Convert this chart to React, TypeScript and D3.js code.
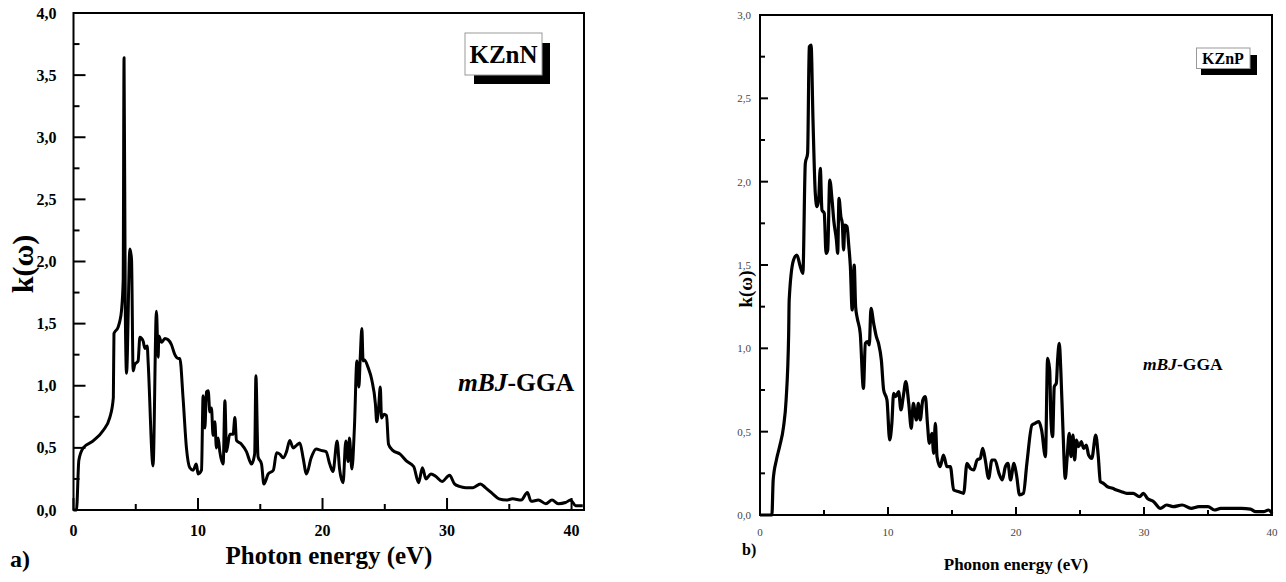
import * as d3 from "d3";

// KZnN, mBJ-GGA — photon energy (eV) vs k(ω)
const leftE = [
  0.0, 0.24, 0.43, 0.78, 1.58, 2.38, 2.92, 3.2, 3.25, 3.58, 3.72, 3.85, 3.99, 4.06, 4.16, 4.26,
  4.53, 4.66, 4.79, 4.92, 5.19, 5.33, 5.59, 5.73, 5.92, 6.0, 6.39, 6.66, 6.8, 6.85, 7.07, 7.34,
  7.6, 7.87, 8.14, 8.41, 8.54, 8.8, 9.07, 9.34, 9.61, 9.86, 10.01, 10.28, 10.41, 10.55, 10.68,
  10.82, 10.95, 11.08, 11.21, 11.35, 11.48, 11.62, 11.75, 12.02, 12.16, 12.29, 12.55, 12.82,
  12.96, 13.09, 13.49, 13.89, 14.3, 14.55, 14.65, 14.82, 15.1, 15.29, 15.64, 16.05, 16.31,
  16.57, 16.84, 17.11, 17.37, 17.64, 17.91, 18.18, 18.44, 18.71, 19.09, 19.49, 19.88, 20.28,
  20.58, 20.84, 21.17, 21.37, 21.65, 21.87, 22.06, 22.16, 22.36, 22.56, 22.76, 22.92, 23.03,
  23.16, 23.26, 23.36, 23.65, 23.95, 24.25, 24.35, 24.5, 24.64, 24.74, 24.94, 25.14, 25.3,
  25.64, 26.23, 26.73, 27.32, 27.72, 28.02, 28.31, 28.71, 29.11, 29.6, 30.2, 30.6, 30.99,
  31.49, 32.08, 32.68, 33.08, 33.67, 34.17, 34.76, 35.26, 35.96, 36.45, 36.75, 37.34, 37.94,
  38.43, 38.93, 39.52, 39.92, 40.32, 40.9,
];
const leftK = [
  0.0, 0.0, 0.4, 0.5, 0.556, 0.64, 0.745, 0.905, 1.42, 1.47, 1.52, 1.6, 1.85, 3.64, 1.6, 1.1,
  2.1, 2.02, 1.12, 1.17, 1.2, 1.39, 1.36, 1.3, 1.32, 1.18, 0.355, 1.6, 1.23, 1.4, 1.35, 1.38,
  1.37, 1.33, 1.25, 1.22, 1.22, 0.9, 0.5, 0.34, 0.32, 0.37, 0.29, 0.32, 0.92, 0.66, 0.95,
  0.96, 0.79, 0.82, 0.6, 0.71, 0.5, 0.58, 0.47, 0.37, 0.88, 0.47, 0.61, 0.61,
  0.745, 0.56, 0.53, 0.47, 0.37, 0.45, 1.08, 0.43, 0.37, 0.21, 0.29, 0.32, 0.46,
  0.45, 0.42, 0.47, 0.56, 0.5, 0.52, 0.54, 0.42, 0.29, 0.42, 0.49, 0.48, 0.47,
  0.37, 0.31, 0.556, 0.33, 0.22, 0.556, 0.39, 0.58, 0.33, 0.66, 1.2, 0.99, 1.23,
  1.46, 1.2, 1.21, 1.15, 1.05, 0.85, 0.71, 0.82, 0.99, 0.74, 0.77, 0.76, 0.53,
  0.48, 0.45, 0.395, 0.35, 0.22, 0.34, 0.25, 0.29, 0.27, 0.23, 0.28, 0.21, 0.19,
  0.18, 0.18, 0.21, 0.18, 0.13, 0.09, 0.08, 0.09, 0.08, 0.14, 0.07, 0.08, 0.05,
  0.08, 0.05, 0.06, 0.08, 0.035, 0.035,
];

// KZnP, mBJ-GGA
const rightE = [
  0.0, 0.93, 1.03, 1.28, 1.53, 1.84, 2.04, 2.24, 2.28, 2.62, 2.88, 3.15, 3.35, 3.54, 3.72, 3.85,
  3.99, 4.14, 4.32, 4.45, 4.58, 4.71, 4.84, 5.02, 5.16, 5.29, 5.45, 5.63, 5.76, 5.97, 6.07,
  6.17, 6.32, 6.43, 6.53, 6.63, 6.8, 6.93, 7.06, 7.2, 7.36, 7.47, 7.6, 7.83, 8.08, 8.23, 8.41,
  8.54, 8.67, 8.88, 9.09, 9.26, 9.48, 9.66, 9.92, 10.13, 10.3, 10.44, 10.6, 10.83, 11.01,
  11.21, 11.39, 11.62, 11.82, 11.98, 12.22, 12.37, 12.52, 12.72, 12.92, 13.08, 13.23, 13.43,
  13.57, 13.7, 13.83, 14.08, 14.33, 14.61, 14.87, 15.13, 15.54, 15.91, 16.17, 16.43, 16.7,
  16.96, 17.21, 17.4, 17.6, 17.86, 18.12, 18.36, 18.67, 18.93, 19.17, 19.37, 19.57, 19.84,
  20.04, 20.28, 20.58, 20.85, 21.25, 21.49, 21.79, 22.0, 22.3, 22.47, 22.63, 22.73, 22.86,
  22.99, 23.15, 23.25, 23.38, 23.5, 23.67, 23.85, 23.98, 24.16, 24.29, 24.45, 24.58, 24.72,
  24.89, 25.1, 25.28, 25.49, 25.67, 25.92, 26.23, 26.43, 26.59, 26.83, 27.13, 27.54, 27.85,
  28.24, 28.65, 29.15, 29.65, 29.96, 30.26, 30.76, 31.27, 31.77, 32.27, 32.98, 33.68, 34.29,
  35.0, 35.5, 36.0, 36.81, 37.61, 38.32, 38.72, 39.33, 39.73, 40.0,
];
const rightK = [
  0.0, 0.0, 0.21, 0.33, 0.41, 0.53, 0.69, 1.09, 1.29, 1.53, 1.56, 1.49, 1.45, 2.11, 2.17, 2.81,
  2.82, 2.37, 1.93, 1.85, 1.89, 2.08, 1.83, 1.81, 1.57, 1.59, 2.01, 1.89, 1.77, 1.65, 1.57,
  1.9, 1.79, 1.75, 1.59, 1.74, 1.73, 1.62, 1.49, 1.23, 1.5, 1.25, 1.18, 1.09, 0.76, 1.03, 1.04,
  1.02, 1.24, 1.15, 1.07, 1.03, 0.93, 0.75, 0.69, 0.45, 0.55, 0.73, 0.71, 0.74, 0.63,
  0.72, 0.8, 0.67, 0.52, 0.67, 0.57, 0.67, 0.57, 0.69, 0.71, 0.55, 0.43, 0.49,
  0.37, 0.55, 0.35, 0.29, 0.36, 0.29, 0.29, 0.15, 0.14, 0.13, 0.31, 0.28, 0.27,
  0.33, 0.34, 0.4, 0.33, 0.22, 0.33, 0.33, 0.25, 0.21, 0.29, 0.31, 0.21, 0.31,
  0.24, 0.12, 0.13, 0.31, 0.54, 0.55, 0.56, 0.51, 0.35, 0.94, 0.87, 0.57, 0.47,
  0.77, 0.79, 0.93, 1.03, 0.87, 0.51, 0.22, 0.33, 0.49, 0.35, 0.48, 0.33, 0.45,
  0.41, 0.44, 0.4, 0.42, 0.36, 0.34, 0.48, 0.35, 0.2, 0.19, 0.17, 0.16, 0.15,
  0.14, 0.13, 0.13, 0.11, 0.13, 0.1, 0.08, 0.04, 0.06, 0.05, 0.06, 0.04, 0.05,
  0.05, 0.03, 0.04, 0.04, 0.04, 0.035, 0.02, 0.02, 0.03, 0.01,
];

const xMajor = [0, 10, 20, 30, 40];
const xMinor = [5, 15, 25, 35];
const leftYMajor = [0, 0.5, 1, 1.5, 2, 2.5, 3, 3.5, 4];
const rightYMajor = [0, 0.5, 1, 1.5, 2, 2.5, 3];

const FONT = "'Liberation Serif', 'Times New Roman', serif";
const fmt = (v: number) => d3.format(".1f")(v).replace(".", ",");

type PanelProps = {
  xs: number[];
  ys: number[];
  xMax: number;
  yMax: number;
  yMajor: number[];
  box: { left: number; right: number; top: number; bottom: number };
  big: boolean;
  lineWidth: number;
};

function Panel({ xs, ys, xMax, yMax, yMajor, box, big, lineWidth }: PanelProps) {
  const x = d3.scaleLinear().domain([0, xMax]).range([box.left, box.right]);
  const y = d3.scaleLinear().domain([0, yMax]).range([box.bottom, box.top]);
  const line = d3
    .line<number>()
    .x((d, i) => x(xs[i]))
    .y((d) => y(d))
    .curve(d3.curveMonotoneX);

  const majLen = big ? 12 : 8;
  const minLen = big ? 6 : 5;
  const yMinor = yMajor.slice(0, -1).map((v) => v + 0.25);
  const tickFont = big ? 16 : 11;

  return (
    <g>
      <path d={line(ys) || ""} fill="none" stroke="#000" strokeWidth={lineWidth} strokeLinejoin="round" />
      <rect
        x={box.left}
        y={box.top}
        width={box.right - box.left}
        height={box.bottom - box.top}
        fill="none"
        stroke="#000"
        strokeWidth={2}
      />
      {yMajor.map((v) => (
        <line key={"ym" + v} x1={box.left} x2={box.left + majLen} y1={y(v)} y2={y(v)} stroke="#000" strokeWidth={2} />
      ))}
      {yMinor.map((v) => (
        <line key={"yn" + v} x1={box.left} x2={box.left + minLen} y1={y(v)} y2={y(v)} stroke="#000" strokeWidth={2} />
      ))}
      {xMajor.map((v) => (
        <line key={"xm" + v} x1={x(v)} x2={x(v)} y1={box.bottom} y2={box.bottom - majLen} stroke="#000" strokeWidth={2} />
      ))}
      {xMinor.map((v) => (
        <line key={"xn" + v} x1={x(v)} x2={x(v)} y1={box.bottom} y2={box.bottom - minLen} stroke="#000" strokeWidth={2} />
      ))}
      {yMajor.map((v) => (
        <text
          key={"yl" + v}
          x={box.left - (big ? 17 : 9)}
          y={y(v)}
          textAnchor="end"
          dominantBaseline="central"
          fontFamily={FONT}
          fontSize={tickFont}
          fontWeight={big ? "bold" : "normal"}
          fill={big ? "#000" : "#444"}
        >
          {fmt(v)}
        </text>
      ))}
      {xMajor.map((v) => (
        <text
          key={"xl" + v}
          x={x(v)}
          y={536}
          textAnchor="middle"
          fontFamily={FONT}
          fontSize={tickFont}
          fontWeight={big ? "bold" : "normal"}
          fill={big ? "#000" : "#444"}
        >
          {v}
        </text>
      ))}
    </g>
  );
}

export default function App() {
  const leftBox = { left: 73.5, right: 584, top: 13, bottom: 510 };
  const rightBox = { left: 760, right: 1272, top: 15, bottom: 515 };
  return (
    <svg width={1286} height={582} style={{ position: "absolute", left: 0, top: 0, background: "#fff" }}>
      <rect width={1286} height={582} fill="#fff" />
      <Panel xs={leftE} ys={leftK} xMax={41} yMax={4} yMajor={leftYMajor} box={leftBox} big={true} lineWidth={3} />
      <Panel xs={rightE} ys={rightK} xMax={40} yMax={3} yMajor={rightYMajor} box={rightBox} big={false} lineWidth={3.2} />

      {/* left panel texts */}
      <text transform="translate(22,264) rotate(-90)" textAnchor="middle" dominantBaseline="central" fontFamily={FONT} fontSize={30} fontWeight="bold">
        k(ω)
      </text>
      <text x={329} y={564} textAnchor="middle" fontFamily={FONT} fontSize={25} fontWeight="bold">
        Photon energy (eV)
      </text>
      <text x={10} y={567} fontFamily={FONT} fontSize={24} fontWeight="bold">
        a)
      </text>
      <rect x={474} y={43} width={76} height={41} fill="#000" />
      <rect x={465} y={33} width={77} height={42} fill="#fff" stroke="#999" strokeWidth={1} />
      <text x={503.5} y={54.5} textAnchor="middle" dominantBaseline="central" fontFamily={FONT} fontSize={25} fontWeight="bold">
        KZnN
      </text>
      <text x={458} y={391} fontFamily={FONT} fontSize={25.5} fontWeight="bold">
        <tspan fontStyle="italic">mBJ</tspan>-GGA
      </text>

      {/* right panel texts */}
      <text transform="translate(745,289) rotate(-90)" textAnchor="middle" dominantBaseline="central" fontFamily={FONT} fontSize={19} fontWeight="bold">
        k(ω)
      </text>
      <text x={1016} y={570} textAnchor="middle" fontFamily={FONT} fontSize={17} fontWeight="bold">
        Phonon energy (eV)
      </text>
      <text x={742} y={555} fontFamily={FONT} fontSize={16} fontWeight="bold">
        b)
      </text>
      <rect x={1201} y={55} width={56} height={20} fill="#000" />
      <rect x={1196.5} y={48} width={53.5} height={20.5} fill="#fff" stroke="#999" strokeWidth={1} />
      <text x={1223} y={58.5} textAnchor="middle" dominantBaseline="central" fontFamily={FONT} fontSize={16} fontWeight="bold">
        KZnP
      </text>
      <text x={1143} y={370} fontFamily={FONT} fontSize={17.5} fontWeight="bold">
        <tspan fontStyle="italic">mBJ</tspan>-GGA
      </text>
    </svg>
  );
}
